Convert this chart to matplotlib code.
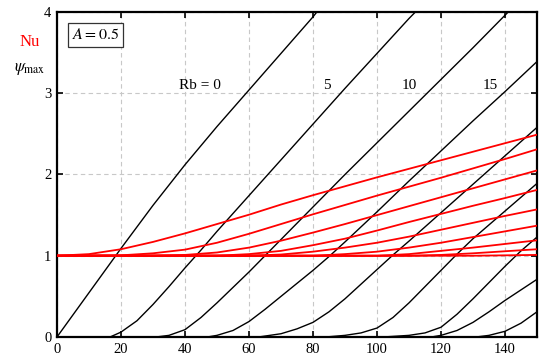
"""
Nu and psi_max against Ra for A = 0.5, several Rb values
"""
import matplotlib
matplotlib.use("Agg")
import matplotlib.pyplot as plt

rb_values = [0, 5, 10, 15, 20, 25, 30, 35, 40]
rb_labels = ["Rb = 0", "5", "10", "15"]
rb_label_x = [44.7, 84.4, 110, 135.3]
rb_label_y = 3.09

# psi_max curves (black)
psi_x = [
    [0, 10, 20, 30, 40, 50, 60, 70, 80, 81],
    [16.6, 20, 25, 30, 35, 40, 45, 50, 60, 70, 80, 90, 100, 110, 112.5],
    [31, 35, 40, 45, 50, 55, 60, 65, 70, 80, 90, 100, 110, 120, 130, 140, 141.5],
    [47, 50, 55, 60, 65, 70, 75, 80, 85, 90, 100, 110, 120, 130, 140, 150],
    [63, 70, 75, 80, 85, 90, 95, 100, 105, 110, 120, 130, 140, 150],
    [84, 90, 95, 100, 105, 110, 115, 120, 125, 130, 140, 150],
    [102, 110, 115, 120, 125, 130, 135, 140, 145, 150],
    [117, 120, 125, 130, 135, 140, 145, 150],
    [131, 135, 140, 145, 150],
]
psi_y = [
    [0, 0.545, 1.09, 1.62, 2.12, 2.59, 3.04, 3.49, 3.94, 3.99],
    [0, 0.06, 0.2, 0.4, 0.62, 0.85, 1.07, 1.3, 1.74, 2.18, 2.62, 3.06, 3.49, 3.92, 4.02],
    [0, 0.02, 0.09, 0.24, 0.42, 0.61, 0.80, 1.0, 1.2, 1.6, 2.0, 2.39, 2.78, 3.17, 3.56, 3.96, 4.02],
    [0, 0.02, 0.08, 0.19, 0.34, 0.50, 0.66, 0.82, 0.99, 1.17, 1.54, 1.92, 2.29, 2.66, 3.02, 3.39],
    [0, 0.04, 0.10, 0.18, 0.31, 0.47, 0.65, 0.83, 1.01, 1.18, 1.53, 1.88, 2.23, 2.58],
    [0, 0.02, 0.05, 0.11, 0.24, 0.42, 0.62, 0.82, 1.02, 1.21, 1.55, 1.89],
    [0, 0.02, 0.05, 0.12, 0.28, 0.47, 0.67, 0.87, 1.06, 1.23],
    [0, 0.02, 0.08, 0.18, 0.31, 0.45, 0.58, 0.71],
    [0, 0.02, 0.07, 0.17, 0.31],
]

# Nu curves (red), on a common Ra grid
nu_x = [0, 10, 20, 30, 40, 50, 60, 70, 80, 90, 100, 110, 120, 130, 140, 150]
nu_y = [
    [1.0, 1.02, 1.08, 1.17, 1.275, 1.39, 1.505, 1.63, 1.745, 1.855, 1.965, 2.07, 2.175, 2.28, 2.385, 2.49],
    [1.0, 1.0, 1.005, 1.03, 1.075, 1.16, 1.27, 1.39, 1.51, 1.625, 1.74, 1.85, 1.96, 2.075, 2.19, 2.31],
    [1.0, 1.0, 1.0, 1.0, 1.01, 1.04, 1.10, 1.185, 1.285, 1.39, 1.50, 1.61, 1.72, 1.83, 1.94, 2.05],
    [1.0, 1.0, 1.0, 1.0, 1.0, 1.0, 1.02, 1.06, 1.13, 1.21, 1.31, 1.415, 1.515, 1.615, 1.71, 1.81],
    [1.0, 1.0, 1.0, 1.0, 1.0, 1.0, 1.0, 1.015, 1.05, 1.10, 1.16, 1.235, 1.32, 1.405, 1.49, 1.57],
    [1.0, 1.0, 1.0, 1.0, 1.0, 1.0, 1.0, 1.0, 1.0, 1.02, 1.05, 1.10, 1.16, 1.23, 1.30, 1.37],
    [1.0, 1.0, 1.0, 1.0, 1.0, 1.0, 1.0, 1.0, 1.0, 1.0, 1.0, 1.02, 1.06, 1.10, 1.145, 1.19],
    [1.0, 1.0, 1.0, 1.0, 1.0, 1.0, 1.0, 1.0, 1.0, 1.0, 1.0, 1.0, 1.01, 1.03, 1.055, 1.08],
    [1.0, 1.0, 1.0, 1.0, 1.0, 1.0, 1.0, 1.0, 1.0, 1.0, 1.0, 1.0, 1.0, 1.0, 1.005, 1.01],
]

x_ticks = [0, 20, 40, 60, 80, 100, 120, 140]
y_ticks = [0, 1, 2, 3, 4]


def draw_chart():
    plt.rcParams["font.family"] = ["Liberation Serif", "DejaVu Serif"]
    plt.rcParams["mathtext.fontset"] = "stix"
    plt.rcParams["font.size"] = 10.5

    fig = plt.figure(figsize=(5.5, 3.62), dpi=100)
    ax = fig.add_axes([0.1036, 0.0691, 0.8728, 0.8978])

    for xs, ys in zip(psi_x, psi_y):
        ax.plot(xs, ys, color="black", lw=1.0, zorder=2)
    for ys in nu_y:
        ax.plot(nu_x, ys, color="red", lw=1.3, zorder=3)

    ax.set_xlim(0, 150)
    ax.set_ylim(0, 4)
    ax.set_xticks(x_ticks)
    ax.set_yticks(y_ticks)
    ax.grid(True, color="#c8c8c8", linestyle=(0, (4, 3)), lw=0.8)
    ax.tick_params(direction="in", top=True, right=True, length=4, width=1.2, pad=4)
    for s in ax.spines.values():
        s.set_linewidth(1.6)

    for lab, lx in zip(rb_labels, rb_label_x):
        ax.text(lx, rb_label_y, lab, ha="center", va="center", fontsize=11)

    ax.text(0.081, 0.929, "$A = 0.5$", transform=ax.transAxes, ha="center", va="center",
            fontsize=11.5,
            bbox=dict(boxstyle="square,pad=0.25", fc="white", ec="#333333", lw=0.9))

    fig.text(30 / 550, 1 - 42 / 362, "Nu", color="red", ha="center", va="center", fontsize=12)
    fig.text(30 / 550, 1 - 69 / 362, r"$\psi_{\max}$", ha="center", va="center", fontsize=12)

    fig.savefig("out.png", dpi=100)


if __name__ == '__main__':
    draw_chart()
